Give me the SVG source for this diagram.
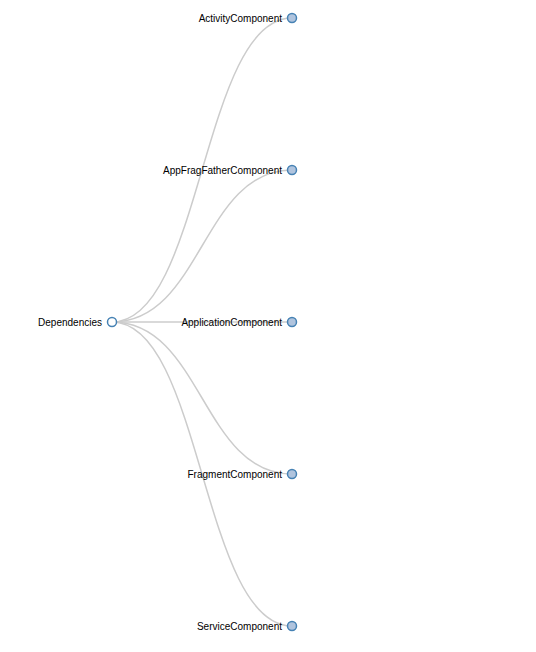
<svg xmlns="http://www.w3.org/2000/svg" width="536" height="652" viewBox="0 0 536 652">
<style>
.link{fill:none;stroke:#ccc;stroke-width:1.5px}
.node circle{stroke:steelblue;stroke-width:1.5px}
.leaf circle{fill:lightsteelblue}
.root circle{fill:#fff}
.node text{font-family:"Liberation Sans",Arial,sans-serif;font-size:10px;text-anchor:end;fill:#000}
</style>
<rect width="536" height="652" fill="#fff"/>
<g id="links">
<path class="link" d="M112,322C202,322 202,18 292,18"/>
<path class="link" d="M112,322C202,322 202,170 292,170"/>
<path class="link" d="M112,322C202,322 202,322 292,322"/>
<path class="link" d="M112,322C202,322 202,474 292,474"/>
<path class="link" d="M112,322C202,322 202,626 292,626"/>
</g>
<g id="node-dependencies" class="node root" transform="translate(112,322)"><circle r="4.5"/><text x="-10" dy="0.35em">Dependencies</text></g>
<g id="node-activity" class="node leaf" transform="translate(292,18)"><circle r="4.5"/><text x="-10" dy="0.35em">ActivityComponent</text></g>
<g id="node-appfragfather" class="node leaf" transform="translate(292,170)"><circle r="4.5"/><text x="-10" dy="0.35em">AppFragFatherComponent</text></g>
<g id="node-application" class="node leaf" transform="translate(292,322)"><circle r="4.5"/><text x="-10" dy="0.35em">ApplicationComponent</text></g>
<g id="node-fragment" class="node leaf" transform="translate(292,474)"><circle r="4.5"/><text x="-10" dy="0.35em">FragmentComponent</text></g>
<g id="node-service" class="node leaf" transform="translate(292,626)"><circle r="4.5"/><text x="-10" dy="0.35em">ServiceComponent</text></g>
</svg>
